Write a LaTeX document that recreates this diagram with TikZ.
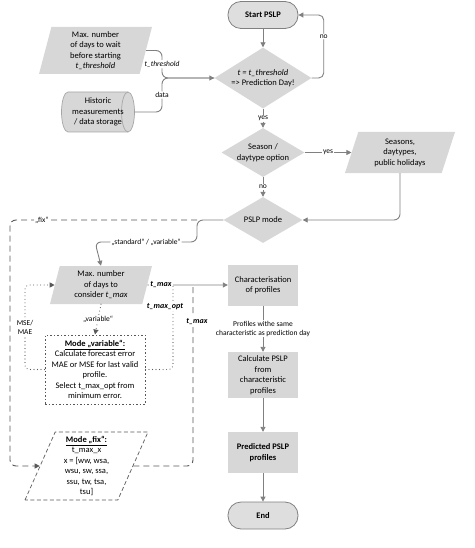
\documentclass[tikz,border=0pt]{standalone}
\usepackage{fontspec}
\setmainfont{Carlito}
\usetikzlibrary{shapes.geometric,arrows.meta}
\definecolor{boxgray}{RGB}{215,215,215}
\definecolor{termgray}{RGB}{222,222,222}
\definecolor{linegray}{RGB}{128,128,128}
\definecolor{dashgray}{RGB}{88,88,88}
\tikzset{
  box/.style={font=\fontsize{8.5}{10.5}\selectfont, align=center, inner sep=1pt, text=black},
  term/.style={box, rectangle, rounded corners=13pt, draw=linegray, line width=0.8pt, fill=termgray, minimum width=70pt, minimum height=27pt, font=\fontsize{8.5}{10.5}\selectfont\bfseries},
  proc/.style={box, rectangle, fill=boxgray, minimum width=70pt},
  dec/.style={box, diamond, fill=boxgray, inner sep=0pt, aspect=1.7},
  io/.style={box, trapezium, trapezium stretches body, fill=boxgray},
  store/.style={box, rectangle, minimum width=73pt, minimum height=40pt},
  drum/.style={draw=linegray!70, line width=0.7pt, fill=boxgray},
  varbox/.style={box, rectangle, draw=dashgray, line width=1pt, dash pattern=on 1.5pt off 2pt, minimum width=100pt, minimum height=69pt},
  fixbox/.style={io, fill=none, draw=dashgray, line width=0.7pt, dash pattern=on 4pt off 2.5pt},
  lbl/.style={fill=white, inner sep=1pt, align=center, font=\fontsize{7.5}{9}\selectfont},
  blbl/.style={lbl, font=\fontsize{8}{9.5}\selectfont\bfseries\itshape},
  conn/.style={draw=linegray, line width=0.9pt},
  arr/.style={conn, -{Triangle[width=5pt,length=5pt]}},
  fixline/.style={draw=dashgray, line width=0.9pt, dash pattern=on 6pt off 4pt},
  fixarr/.style={fixline, -{Triangle[width=5pt,length=5pt]}},
  dotline/.style={draw=dashgray, line width=1.1pt, dash pattern=on 0.01pt off 3.5pt, line cap=round},
  dotarr/.style={dotline, -{Triangle[width=5pt,length=5pt]}}
}
\begin{document}
\begin{tikzpicture}[x=1pt,y=-1pt]
\useasboundingbox (0,0) rectangle (474,548);

% main column
\node[term] (start) at (263,15) {Start PSLP};
\node[dec, aspect=1.6, minimum width=97pt, minimum height=61pt] (thr) at (263,78) {\textit{t = t\_threshold}\\=> Prediction Day!};
\node[dec, inner sep=-1.5pt, minimum width=83pt, minimum height=49pt] (sea) at (263,152.5) {Season /\\daytype option};
\node[dec, minimum width=79pt, minimum height=46pt] (mode) at (263,220) {PSLP mode};
\node[proc, minimum height=41pt] (char) at (263,285) {Characterisation\\of profiles};
\node[proc, minimum height=46pt] (calc) at (263,375) {Calculate PSLP\\from\\characteristic\\profiles};
\node[proc, minimum height=41pt, font=\fontsize{8.5}{10.5}\selectfont\bfseries] (pred) at (263,452.5) {Predicted PSLP\\profiles};
\node[term] (end) at (263,515.5) {End};

% inputs
\node[io, trapezium left angle=73, trapezium right angle=107, minimum width=113pt, minimum height=47pt] (tin) at (95.5,50.5) {Max. number\\of days to wait\\before starting\\\textit{t\_threshold}};
% data storage drum
\path[drum] (68,92) -- (128,92) arc[start angle=90, end angle=-90, x radius=6.5pt, y radius=20pt] -- (68,132) arc[start angle=270, end angle=90, x radius=6.5pt, y radius=20pt] -- cycle;
\draw[linegray!70, line width=0.7pt] (128,92) arc[start angle=90, end angle=270, x radius=6.5pt, y radius=20pt];
\node[store] (hist) at (98,112) {Historic\\measurements\\/ data storage};
\node[io, trapezium left angle=66, trapezium right angle=114, minimum width=110pt, minimum height=41pt] (sdat) at (400,152.5) {Seasons,\\daytypes,\\public holidays};
\node[io, trapezium left angle=72, trapezium right angle=108, minimum width=102pt, minimum height=38pt] (tmx) at (101,285) {Max. number\\of days to\\consider \textit{t\_max}};
\node[varbox] (var) at (95,369.5) {\underline{\textbf{Mode „variable“:}}\\Calculate forecast error\\MAE or MSE for last valid\\profile.\\Select t\_max\_opt from\\minimum error.};
\node[fixbox, trapezium left angle=64, trapezium right angle=116, minimum width=123pt, minimum height=68pt] (fix) at (86.5,466) {\underline{\textbf{Mode „fix“:}}\\t\_max\_x\\x = [ww, wsa,\\wsu, sw, ssa,\\ssu, tw, tsa,\\tsu]};

% corner points
\coordinate (join) at (162,78);
\coordinate (split) at (197,220);
\coordinate (bend) at (95,242);
\coordinate (lft) at (10,220);
\coordinate (mse) at (25,285);
\coordinate (opt) at (173,285);
\coordinate (fixin) at (193,285);

% connectors
\draw[arr] (start) -- (thr);
\draw[arr, rounded corners=5pt] (thr.east) -- ++(12,0) |- node[lbl, pos=0.33] {no} (start.east);
\draw[arr, rounded corners=6pt] (tin.east) -| node[lbl, pos=0.75] {\textit{t\_threshold}} (join) -- (thr.west);
\draw[conn, rounded corners=6pt] (hist.east) -| node[lbl, pos=0.75] {data} (join) -- (thr.west);
\draw[arr] (thr) -- node[lbl] {yes} (sea);
\draw[arr] (sea) -- node[lbl] {yes} (sdat);
\draw[arr] (sea) -- node[lbl] {no} (mode);
\draw[arr, rounded corners=6pt] (sdat.south) |- (mode.east);
\draw[arr, rounded corners=6pt] (mode.west) -- (split) |- node[lbl, pos=0.75] {„standard“ / „variable“} (bend) -- (tmx.north);
\draw[fixarr, rounded corners=6pt] (split) -- node[lbl, pos=0.83] {„fix“} (lft) |- (fix.west);
\draw[arr] (tmx.east) -- node[blbl, pos=0.17] {t\_max} (char.west);
\draw[dotarr] (tmx.south) -- node[lbl] {„variable“} (var.north);
\draw[dotarr, rounded corners=4pt] (var.west) -| node[lbl, pos=0.75] {MSE/\\MAE} (mse) -- (tmx.west);
\draw[dotline, rounded corners=4pt] (var.east) -| node[blbl, pos=0.87, xshift=-8pt] {t\_max\_opt} (opt);
\draw[fixline, rounded corners=6pt] (fix.east) -| node[blbl, pos=0.9, xshift=4pt] {t\_max} (fixin);
\draw[arr] (char) -- node[lbl] {Profiles withe same\\characteristic as prediction day} (calc);
\draw[arr] (calc) -- (pred);
\draw[arr] (pred) -- (end);
\end{tikzpicture}
\end{document}
